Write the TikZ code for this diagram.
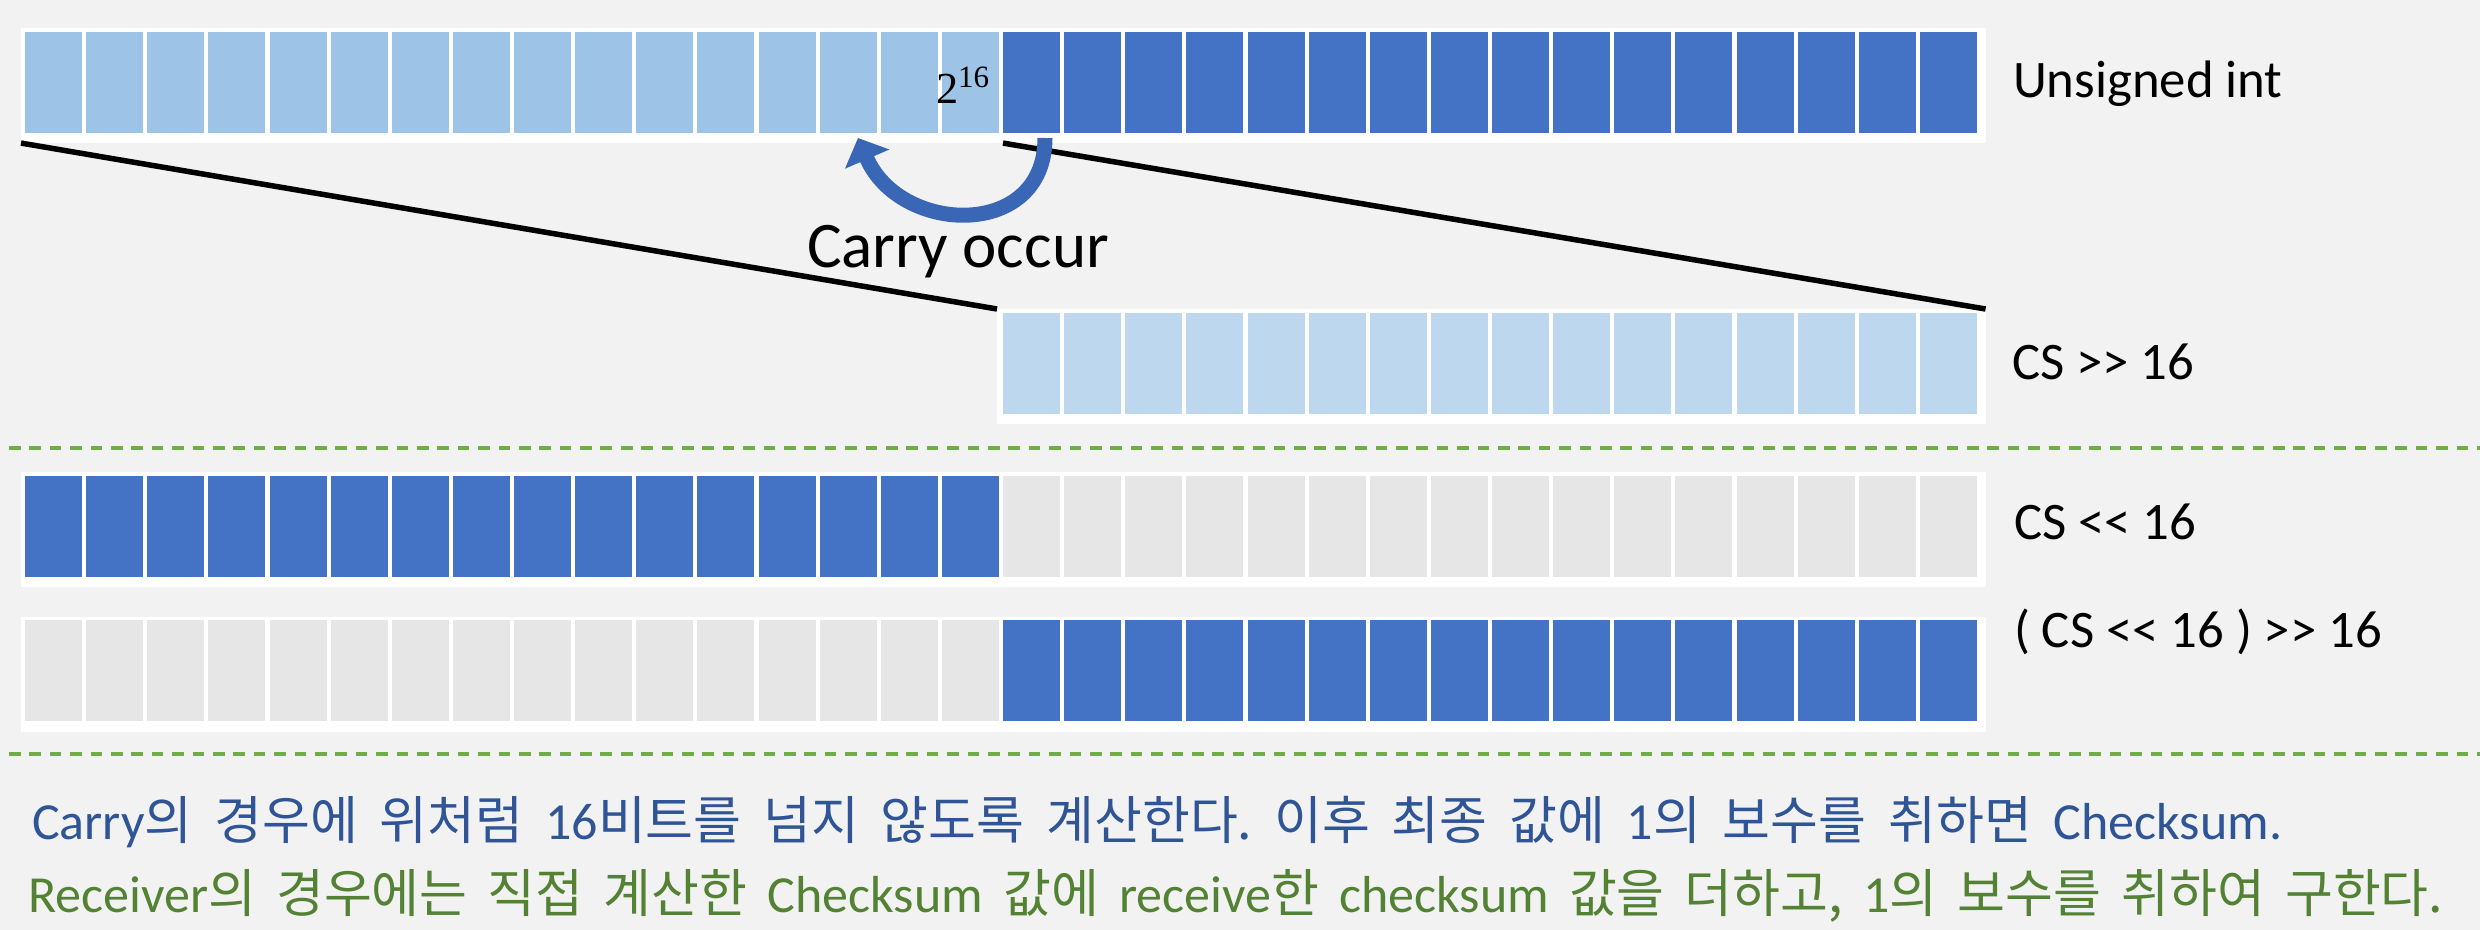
\documentclass[tikz,border=0pt]{standalone}
\usepackage{fontspec}
\setmainfont{Carlito}
\newfontfamily\latfont{Carlito}
\newfontfamily\krfont{Noto Sans CJK KR}
\newfontfamily\seriffont{Liberation Serif}
\usetikzlibrary{arrows.meta,positioning}
\definecolor{bggray}{HTML}{F2F2F2}
\definecolor{lightblue}{HTML}{9DC3E6}
\definecolor{paleblue}{HTML}{BDD7EE}
\definecolor{darkblue}{HTML}{4472C4}
\definecolor{cellgray}{HTML}{E7E6E6}
\definecolor{arrowblue}{HTML}{3A66B6}
\definecolor{textblue}{HTML}{2F5597}
\definecolor{textgreen}{HTML}{548235}
\definecolor{dashgreen}{HTML}{70AD47}
\newcommand\lat[1]{{\latfont #1}}
\newcommand\gtgt{>\kern0pt>}
\newcommand\ltlt{<\kern0pt<}
\newcommand\notespacing{\frenchspacing\spaceskip=1.15mm plus 1mm minus 1mm\relax}

\begin{document}
\begin{tikzpicture}[
    x=0.01cm, y=-0.01cm,
    every node/.style={inner sep=0pt, outer sep=0pt},
    rowbox/.style={
        rectangle, fill=white,
        minimum width=196.4mm, minimum height=11.5mm,
        anchor=north west
    },
    halfbox/.style={rowbox, minimum width=98.8mm},
    bitcell/.style={
        rectangle, fill=#1,
        minimum width=5.7mm, minimum height=10.1mm,
        anchor=north west
    },
    tag/.style={anchor=base west, font=\fontsize{15}{17}\selectfont},
    notetext/.style={anchor=base west,
        font=\krfont\fontsize{14.8}{17}\selectfont\notespacing},
    sepline/.style={dashgreen, line width=0.9pt, dash pattern=on 3.3pt off 2.5pt},
    zoomline/.style={black, line width=0.55mm}
]
\useasboundingbox (0,0) rectangle (2480,930);
\fill[bggray] (0,0) rectangle (2480,930);

% unsigned int
\node[rowbox] (top) at (21,28) {};
\foreach \i in {0,...,15}
    \node[bitcell=lightblue] (a\i) at ({25+61.125*\i},32) {};
\foreach \i in {16,...,31}
    \node[bitcell=darkblue] (a\i) at ({25+61.125*\i},32) {};

% CS >> 16
\node[halfbox] (shift) at (997,309) {};
\foreach \i in {16,...,31}
    \node[bitcell=paleblue] (b\i) at ({25+61.125*\i},313) {};

% CS << 16
\node[rowbox] (lsh) at (21,472) {};
\foreach \i in {0,...,15}
    \node[bitcell=darkblue] (c\i) at ({25+61.125*\i},476) {};
\foreach \i in {16,...,31}
    \node[bitcell=cellgray] (c\i) at ({25+61.125*\i},476) {};

% ( CS << 16 ) >> 16
\node[rowbox] (lshr) at (21,617) {};
\foreach \i in {0,...,15}
    \node[bitcell=cellgray] (d\i) at ({25+61.125*\i},620) {};
\foreach \i in {16,...,31}
    \node[bitcell=darkblue] (d\i) at ({25+61.125*\i},620) {};

\draw[zoomline] (top.south west) -- (shift.north west);
\draw[zoomline] (top.south -| a16.west) -- (shift.north east);

% carry
\coordinate (carryfrom) at (1045,138);
\coordinate (carryto) at (858,138);
\draw[arrowblue, line width=1.5mm, -{Triangle[width=4.7mm,length=2.3mm]}]
    (carryfrom) .. controls +(0,102) and +(42,97) .. (carryto);
\node[anchor=base west, font=\fontsize{18.5}{20}\selectfont] (carry) at (807,267) {Carry occur};
\node[anchor=base west, font=\seriffont\fontsize{12.6}{14}\selectfont] (pow) at (936,103) {2\textsuperscript{16}};

\node[tag] (uint) at (2013,97) {Unsigned int};
\node[tag] (shr) at (2012,379) {CS \gtgt{} 16};
\node[tag] (shl) at (2014,539) {CS \ltlt{} 16};
\node[tag] (shlr) at (2014,647) {( CS \ltlt{} 16 ) \gtgt{} 16};

\draw[sepline] (9,448) -- (2480,448);
\draw[sepline] (9,754) -- (2480,754);

\node[notetext, text=textblue] (note1) at (32,839)
    {\makebox[224.9mm][s]{\lat{Carry}의 경우에 위처럼 \lat{16}비트를 넘지 않도록 계산한다. 이후 최종 값에 \lat{1}의 보수를 취하면 \lat{Checksum.}}};
\node[notetext, text=textgreen] (note2) at (28,912)
    {\makebox[241.4mm][s]{\lat{Receiver}의 경우에는 직접 계산한 \lat{Checksum} 값에 \lat{receive}한 \lat{checksum} 값을 더하고, \lat{1}의 보수를 취하여 구한다.}};
\end{tikzpicture}
\end{document}
